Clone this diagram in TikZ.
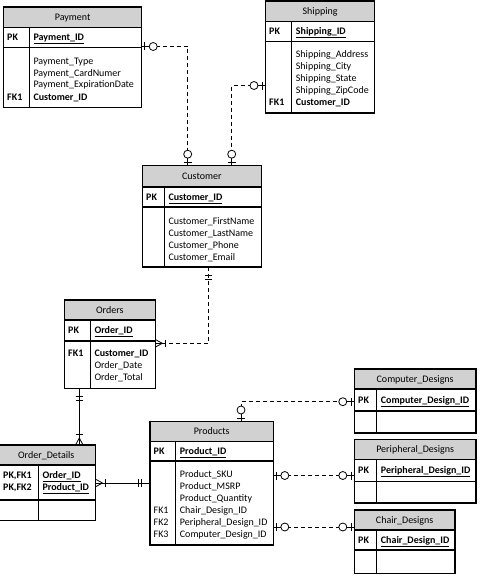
\documentclass[tikz,border=0pt]{standalone}
\usepackage{fontspec}
\setmainfont{Carlito}
\usetikzlibrary{calc}
\tikzset{
  tbl/.style={line width=1.1pt},
  hdr/.style={draw, line width=1.1pt, fill=black!18, inner sep=0pt, outer sep=0pt, font=\fontsize{10}{12}\selectfont, text height=7.5pt, text depth=1.5pt},
  fld/.style={inner sep=0pt, anchor=west, font=\fontsize{10}{12}\selectfont, text height=7.5pt, text depth=1.5pt},
  key/.style={fld, font=\fontsize{10}{12}\selectfont\bfseries},
  rel/.style={line width=0.8pt},
  optrel/.style={rel, dash pattern=on 4pt off 3pt}
}
\def\ertable[#1](#2,#3,#4)(#5,#6,#7,#8)#9{%
  \node[hdr, minimum width={#4-#2}, minimum height={#6-#5}] (#1) at ({(#2+#4)/2},{(#5+#6)/2}) {#9};
  \draw[tbl] (#2,#6) rectangle (#4,#8);
  \draw[tbl] (#2,#7) -- (#4,#7);
  \draw[tbl] (#3,#6) -- (#3,#8);}
\def\zeroone(#1:#2){\begin{scope}[shift={(#1)},rotate=#2]
  \draw[rel] (0,0) -- (8,0);
  \draw[rel] (3,-4) -- (3,4);
  \draw[rel, fill=white] (11.5,0) circle (4pt);
  \end{scope}}
\def\mandone(#1:#2){\begin{scope}[shift={(#1)},rotate=#2]
  \draw[rel] (8.5,-3.7) -- (8.5,3.7);
  \draw[rel] (12,-3.7) -- (12,3.7);
  \end{scope}}
\def\onemany(#1:#2){\begin{scope}[shift={(#1)},rotate=#2]
  \draw[rel] (0,-3.8) -- (7,0) -- (0,3.8);
  \draw[rel] (0,0) -- (10.3,0);
  \draw[rel] (10.3,-3.8) -- (10.3,3.8);
  \end{scope}}
\begin{document}
\begin{tikzpicture}[x=1pt, y=-1pt]
  %%%%% START %%%%%
  \useasboundingbox (0,0) rectangle (480,578);

  % tables
  \ertable[pay](3.5,29.3,141.7)(7,27.3,47.5,107.5){Payment}
  \ertable[ship](265.5,291.7,374.7)(1,21.3,41.3,113){Shipping}
  \ertable[cust](142.3,164.3,261.3)(165.7,187,207,267){Customer}
  \ertable[ord](64.3,90.3,155.3)(300,320,341,388.3){Orders}
  \ertable[od](-3,38.3,95.5)(445,465,500,520.7){Order\_Details}
  \ertable[prod](150,175.7,273.3)(421.5,441.7,461,545){Products}
  \ertable[comp](354.3,376.7,476)(369,389,411,433){Computer\_Designs}
  \ertable[peri](354.3,376.7,476)(439.3,459.3,481.7,503){Peripheral\_Designs}
  \ertable[chair](354.3,376.7,455)(510,530,550,573.3){Chair\_Designs}

  % Payment
  \node[key] (pay-pk) at (7,37.5) {PK};
  \node[fld] (pay-id) at (33.3,37.5) {\textbf{\underline{Payment\_ID}}};
  \node[fld] (pay-f1) at (33.3,61) {Payment\_Type};
  \node[fld] (pay-f2) at (33.3,73) {Payment\_CardNumer};
  \node[fld] (pay-f3) at (33.3,85) {Payment\_ExpirationDate};
  \node[key] (pay-fk) at (7,97) {FK1};
  \node[key] (pay-f4) at (33.3,97) {Customer\_ID};

  % Shipping
  \node[key] (ship-pk) at (269,31.3) {PK};
  \node[fld] (ship-id) at (295.7,31.3) {\textbf{\underline{Shipping\_ID}}};
  \node[fld] (ship-f1) at (295.7,54.5) {Shipping\_Address};
  \node[fld] (ship-f2) at (295.7,66.5) {Shipping\_City};
  \node[fld] (ship-f3) at (295.7,78.5) {Shipping\_State};
  \node[fld] (ship-f4) at (295.7,90.5) {Shipping\_ZipCode};
  \node[key] (ship-fk) at (269,102.7) {FK1};
  \node[key] (ship-f5) at (295.7,102.7) {Customer\_ID};

  % Customer
  \node[key] (cust-pk) at (146,197) {PK};
  \node[fld] (cust-id) at (168.3,197) {\textbf{\underline{Customer\_ID}}};
  \node[fld] (cust-f1) at (168.3,221) {Customer\_FirstName};
  \node[fld] (cust-f2) at (168.3,233) {Customer\_LastName};
  \node[fld] (cust-f3) at (168.3,245) {Customer\_Phone};
  \node[fld] (cust-f4) at (168.3,257) {Customer\_Email};

  % Orders
  \node[key] (ord-pk) at (68,330.5) {PK};
  \node[fld] (ord-id) at (94.3,330.5) {\textbf{\underline{Order\_ID}}};
  \node[key] (ord-fk) at (68,353.3) {FK1};
  \node[key] (ord-f1) at (94.3,353.3) {Customer\_ID};
  \node[fld] (ord-f2) at (94.3,365.5) {Order\_Date};
  \node[fld] (ord-f3) at (94.3,377.5) {Order\_Total};

  % Order_Details
  \node[key] (od-pk1) at (3,475) {PK,FK1};
  \node[fld] (od-id1) at (42.3,475) {\textbf{\underline{Order\_ID}}};
  \node[key] (od-pk2) at (3,487) {PK,FK2};
  \node[fld] (od-id2) at (42.3,487) {\textbf{\underline{Product\_ID}}};

  % Products
  \node[key] (prod-pk) at (153.5,451.3) {PK};
  \node[fld] (prod-id) at (179.7,451.3) {\textbf{\underline{Product\_ID}}};
  \node[fld] (prod-f1) at (179.7,474.3) {Product\_SKU};
  \node[fld] (prod-f2) at (179.7,486.3) {Product\_MSRP};
  \node[fld] (prod-f3) at (179.7,498.3) {Product\_Quantity};
  \node[fld] (prod-fk1) at (153.5,510.3) {FK1};
  \node[fld] (prod-f4) at (179.7,510.3) {Chair\_Design\_ID};
  \node[fld] (prod-fk2) at (153.5,522.3) {FK2};
  \node[fld] (prod-f5) at (179.7,522.3) {Peripheral\_Design\_ID};
  \node[fld] (prod-fk3) at (153.5,534.3) {FK3};
  \node[fld] (prod-f6) at (179.7,534.3) {Computer\_Design\_ID};

  % design tables
  \node[key] (comp-pk) at (358,400) {PK};
  \node[fld] (comp-id) at (380.7,400) {\textbf{\underline{Computer\_Design\_ID}}};
  \node[key] (peri-pk) at (358,470.5) {PK};
  \node[fld] (peri-id) at (380.7,470.5) {\textbf{\underline{Peripheral\_Design\_ID}}};
  \node[key] (chair-pk) at (358,540) {PK};
  \node[fld] (chair-id) at (380.7,540) {\textbf{\underline{Chair\_Design\_ID}}};

  % connector ends
  \coordinate (pay-r) at (141.7,46.5);
  \coordinate (cust-t1) at (187.7,165.7);
  \coordinate (ship-l) at (265.5,85.5);
  \coordinate (cust-t2) at (231.7,165.7);
  \coordinate (cust-b) at (208.3,267);
  \coordinate (ord-r) at (155.3,343.3);
  \coordinate (ord-b) at (79.3,388.3);
  \coordinate (od-t) at (79.3,445);
  \coordinate (od-r) at (95.5,483);
  \coordinate (prod-l) at (150,483);
  \coordinate (prod-t) at (241,421.5);
  \coordinate (comp-l) at (354.3,401.7);
  \coordinate (prod-r1) at (273.3,475.5);
  \coordinate (peri-l) at (354.3,475.5);
  \coordinate (prod-r2) at (273.3,527);
  \coordinate (chair-l) at (354.3,527);

  % connectors
  \draw[optrel] (pay-r) -| (cust-t1);
  \draw[optrel] (ship-l) -| (cust-t2);
  \draw[optrel] (cust-b) |- (ord-r);
  \draw[rel] (ord-b) -- (od-t);
  \draw[rel] (od-r) -- (prod-l);
  \draw[optrel] (prod-t) |- (comp-l);
  \draw[optrel] (prod-r1) -- (peri-l);
  \draw[optrel] (prod-r2) -- (chair-l);

  % ends
  \zeroone(pay-r:0)
  \zeroone(cust-t1:90)
  \zeroone(ship-l:180)
  \zeroone(cust-t2:90)
  \mandone(cust-b:-90)
  \onemany(ord-r:0)
  \mandone(ord-b:-90)
  \onemany(od-t:90)
  \onemany(od-r:0)
  \mandone(prod-l:180)
  \zeroone(prod-t:90)
  \zeroone(comp-l:180)
  \zeroone(prod-r1:0)
  \zeroone(peri-l:180)
  \zeroone(prod-r2:0)
  \zeroone(chair-l:180)
  %%%%% END %%%%%
\end{tikzpicture}
\end{document}
